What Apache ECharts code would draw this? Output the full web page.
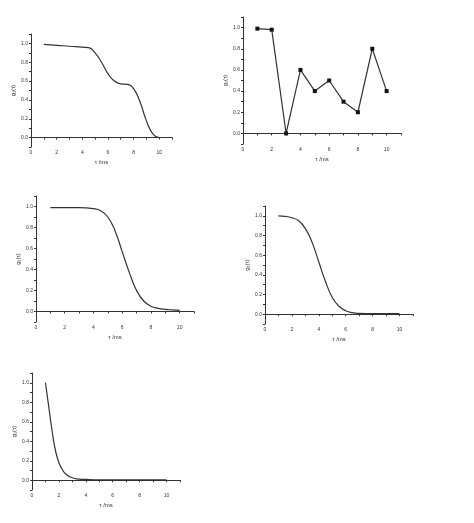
<!DOCTYPE html>
<html>
<head>
<meta charset="UTF-8">
<script src="https://cdn.jsdelivr.net/npm/echarts@6/dist/echarts.min.js"></script>
<style>html,body{margin:0;background:#fff}#c{width:474px;height:523px}</style>
</head>
<body>
<div id="c"></div>
<script>
var p1 = [[1,0.99],[1.5,0.985],[2,0.98],[2.5,0.975],[3,0.97],[3.5,0.965],[4,0.96],[4.5,0.955],[5,0.9],[5.5,0.8],[6,0.68],[6.5,0.6],[7,0.57],[7.5,0.565],[8,0.52],[8.5,0.38],[9,0.18],[9.5,0.04],[10,0.0]];
var p2 = [[1,0.99],[2,0.98],[3,0],[4,0.6],[5,0.4],[6,0.5],[7,0.3],[8,0.2],[9,0.8],[10,0.4]];
var p3 = [[1,0.99],[2,0.99],[3,0.99],[4,0.98],[4.5,0.96],[5,0.9],[5.5,0.77],[6,0.57],[6.5,0.37],[7,0.2],[7.5,0.1],[8,0.05],[8.5,0.03],[9,0.02],[9.5,0.015],[10,0.01]];
var p4 = [[1,1.0],[1.5,0.995],[2,0.98],[2.5,0.95],[3,0.87],[3.5,0.73],[4,0.53],[4.5,0.33],[5,0.17],[5.5,0.08],[6,0.035],[6.5,0.015],[7,0.008],[8,0.005],[9,0.005],[10,0.005]];
var p5 = [[1,1.0],[1.25,0.75],[1.5,0.5],[1.75,0.3],[2,0.18],[2.25,0.11],[2.5,0.065],[3,0.025],[3.5,0.012],[4,0.008],[5,0.005],[6,0.005],[7,0.005],[8,0.005],[9,0.005],[10,0.005]];
var xTicks = [0,2,4,6,8,10];
var xTickMarks = [0,1,2,3,4,5,6,7,8,9,10,11];
var yTicks = [0,0.2,0.4,0.6,0.8,1.0];
var yTickMarks = [-0.1,0,0.1,0.2,0.3,0.4,0.5,0.6,0.7,0.8,0.9,1.0,1.1];

// [left, top, right-edge, bottom-edge] in px
var boxes = [[31,34,172,147],[243,17,401,144],[36,196,194,322],[265,206,413,324],[32,373,180,490]];
var yName = 'g\u2081(\u03c4)';
var sets = [p1,p2,p3,p4,p5];

var axLine = {lineStyle:{color:'#333',width:1}};
var lab = {fontSize:5,color:'#333',fontFamily:'Liberation Sans'};
var grid=[],xAxis=[],yAxis=[],series=[];
boxes.forEach(function(b,i){
	grid.push({left:b[0],top:b[1],width:b[2]-b[0],height:b[3]-b[1]});
	xAxis.push({type:'value',gridIndex:i,min:0,max:11,name:'\u03c4 /ms',nameLocation:'middle',nameGap:12,
		nameTextStyle:{fontSize:6,color:'#333'},axisLine:axLine,splitLine:{show:false},
		axisTick:{customValues:xTickMarks,length:2,lineStyle:{color:'#333'}},
		axisLabel:Object.assign({customValues:xTicks,margin:3},lab)});
	yAxis.push({type:'value',gridIndex:i,min:-0.1,max:1.1,name:yName,nameLocation:'middle',nameGap:15,
		nameTextStyle:{fontSize:6,color:'#333'},axisLine:Object.assign({show:true},axLine),splitLine:{show:false},
		axisTick:{show:true,customValues:yTickMarks,length:2,lineStyle:{color:'#333'}},
		axisLabel:Object.assign({customValues:yTicks,margin:3,formatter:function(v){return v.toFixed(1)}},lab)});
	series.push({type:'line',xAxisIndex:i,yAxisIndex:i,data:sets[i],smooth:i!==1,
		symbol:i===1?'rect':'none',symbolSize:4,itemStyle:{color:'#111'},
		lineStyle:{color:'#333',width:1.2}});
});
var myChart = echarts.init(document.getElementById('c'));
myChart.setOption({animation:false,grid:grid,xAxis:xAxis,yAxis:yAxis,series:series});
</script>
</body>
</html>
